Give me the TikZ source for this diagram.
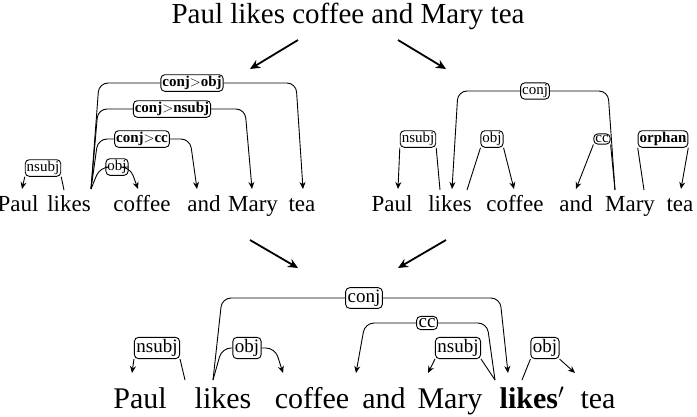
\documentclass[tikz,border=0pt]{standalone}
\usepackage{fontspec}
\usetikzlibrary{arrows.meta}
\setmainfont{Liberation Serif}
\begin{document}
\begin{tikzpicture}[x=1pt,y=-1pt,line width=0.9pt,
  lab/.style={draw,rounded corners=4pt,inner sep=1.5pt,font=\fontsize{15}{15}\selectfont,fill=white},
  blab/.style={lab,inner sep=2pt,font=\fontsize{19}{19}\selectfont},
  w/.style={font=\fontsize{23}{23}\selectfont,anchor=base,inner sep=0pt},
  bw/.style={font=\fontsize{30}{30}\selectfont,anchor=base,inner sep=0pt},
  arc/.style={rounded corners=9pt},
  ar/.style={-{Stealth[length=7pt,width=6pt]},rounded corners=9pt},
  big/.style={-{Stealth[length=10pt,width=9pt]},line width=1.8pt}]
\useasboundingbox (0,0) rectangle (697,416);
\node[font=\fontsize{29}{29}\selectfont] (title) at (348,16) {Paul likes coffee and Mary tea};
% big arrows
\coordinate (a1) at (298,40); \coordinate (a2) at (250,69);
\coordinate (a3) at (398,40); \coordinate (a4) at (446,69);
\coordinate (a5) at (250,240); \coordinate (a6) at (298,268);
\coordinate (a7) at (446,240); \coordinate (a8) at (398,268);
\draw[big] (a1) -- (a2); \draw[big] (a3) -- (a4);
\draw[big] (a5) -- (a6); \draw[big] (a7) -- (a8);
% top-left
\node[w] (l1) at (18,211) {Paul};
\node[w] (l2) at (69,211) {likes};
\node[w] (l3) at (142,211) {coffee};
\node[w] (l4) at (204,211) {and};
\node[w] (l5) at (253,211) {Mary};
\node[w] (l6) at (302,211) {tea};
\node[lab] (ln) at (43,168) {nsubj};
\node[lab] (lo) at (117,167) {obj};
\node[lab] (lc) at (142,139) {\textbf{conj}$>$\textbf{cc}};
\node[lab] (ls) at (172,109) {\textbf{conj}$>$\textbf{nsubj}};
\node[lab] (lj) at (192,83) {\textbf{conj}$>$\textbf{obj}};
\coordinate (s) at (91,189);
\draw (64,190) -- (ln.south east);
\draw[ar] (ln.south west) -- (22,189);
\draw[arc] (s) -- (100,167) -- (lo.west);
\draw[ar] (lo.east) -- (130,167) -- (138,189);
\draw[arc] (s) -- (98,139) -- (lc.west);
\draw[ar] (lc.east) -- (190,139) -- (197,189);
\draw[arc] (s) -- (98,109) -- (ls.west);
\draw[ar] (ls.east) -- (245,109) -- (252,189);
\draw[arc] (s) -- (99,83) -- (lj.west);
\draw[ar] (lj.east) -- (296,83) -- (303,189);
% top-right
\node[w] (r1) at (392,211) {Paul};
\node[w] (r2) at (450,211) {likes};
\node[w] (r3) at (515,211) {coffee};
\node[w] (r4) at (576,211) {and};
\node[w] (r5) at (630,211) {Mary};
\node[w] (r6) at (680,211) {tea};
\node[lab] (rj) at (535,91) {conj};
\node[lab] (rn) at (418,139) {nsubj};
\node[lab] (ro) at (492,139) {obj};
\node[lab] (rc) at (602,139) {cc};
\node[lab] (rp) at (663,139) {\textbf{orphan}};
\draw[ar] (rj.west) -- (458,91) -- (452,189);
\draw[arc] (615,190) -- (608,91) -- (rj.east);
\draw[ar] (rn.south west) -- (398,189);
\draw (440,190) -- (rn.south east);
\draw (467,190) -- (ro.south west);
\draw[ar] (ro.south east) -- (514,189);
\draw[ar] (rc.south west) -- (576,189);
\draw (615,190) -- (rc.south east);
\draw (644,190) -- (rp.south west);
\draw[ar] (rp.south east) -- (681,189);
% bottom
\node[bw] (b1) at (140,408) {Paul};
\node[bw] (b2) at (223,408) {likes};
\node[bw] (b3) at (312,408) {coffee};
\node[bw] (b4) at (384,408) {and};
\node[bw] (b5) at (450,408) {Mary};
\node[bw] (b6) at (532,408) {\textbf{likes}$'$};
\node[bw] (b7) at (598,408) {tea};
\node[blab] (bj) at (364,298) {conj};
\node[blab] (bc) at (427,323) {cc};
\node[blab] (bn2) at (458,348) {nsubj};
\node[blab] (bo) at (247,348) {obj};
\node[blab] (bn) at (157,348) {nsubj};
\node[blab] (bo2) at (545,348) {obj};
\draw[arc] (213,380) -- (222,298) -- (bj.west);
\draw[ar] (bj.east) -- (500,298) -- (508,373);
\draw[ar] (bc.west) -- (365,323) -- (356,373);
\draw[arc] (495,380) -- (487,323) -- (bc.east);
\draw[ar] (bn2.south west) -- (428,373);
\draw (495,380) -- (bn2.south east);
\draw[arc] (213,380) -- (222,348) -- (bo.west);
\draw[ar] (bo.east) -- (275,348) -- (283,373);
\draw[ar] (bn.south west) -- (132,373);
\draw (185,380) -- (bn.south east);
\draw (522,380) -- (bo2.south west);
\draw[ar] (bo2.south east) -- (575,373);
\end{tikzpicture}
\end{document}
